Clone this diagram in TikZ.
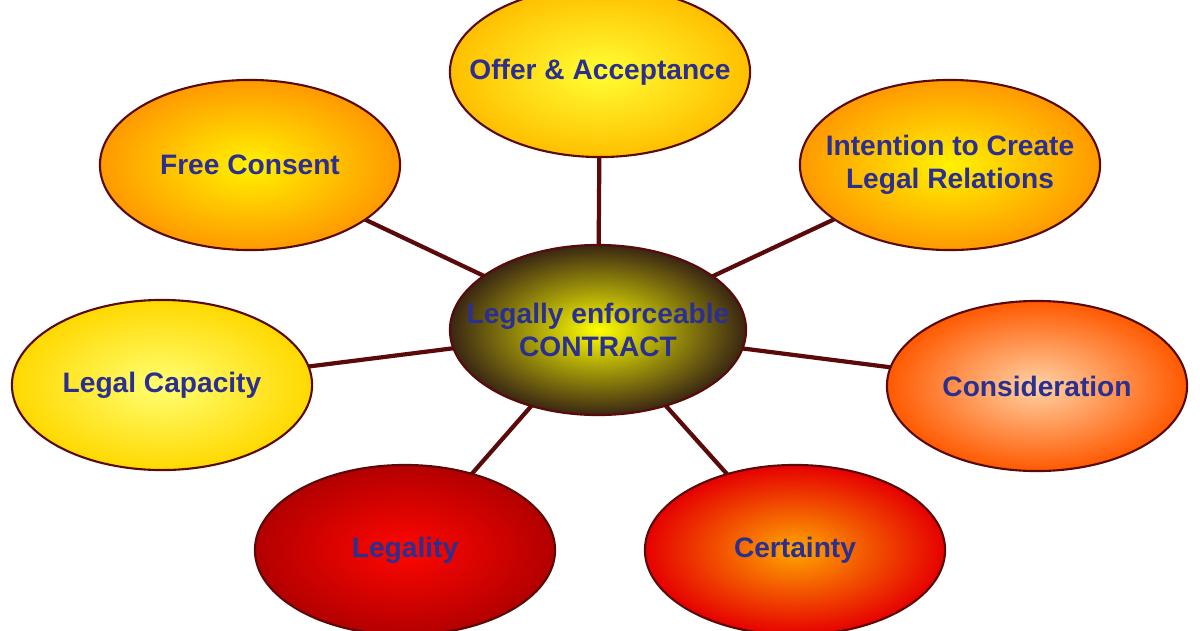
\documentclass[tikz,border=0pt]{standalone}
\usepackage{fontspec}
\setmainfont{Liberation Sans}
\usetikzlibrary{shapes.geometric,backgrounds}
\definecolor{txt}{HTML}{2B2F8F}
\definecolor{edge}{HTML}{5A0A0A}
\tikzset{
 bub/.style={ellipse, draw=edge, line width=0.6pt, inner sep=0pt, minimum width=3cm, minimum height=1.7cm, shading=radial,
   label={[font=\bfseries\fontsize{8}{9.5}\selectfont, text=txt, align=center]center:#1}},
 link/.style={draw=edge, line width=1.2pt}
}
\begin{document}
\begin{tikzpicture}[x=0.01cm,y=-0.01cm]
\useasboundingbox (0,0) rectangle (1200,630);
\node[bub={Offer \& Acceptance}, inner color=yellow!80!white, outer color=orange!50!yellow] (oa) at (600,72) {};
\node[bub={Free Consent}, inner color=yellow!90!orange, outer color=orange!80!yellow] (fc) at (250,165) {};
\node[bub={Intention to Create\\Legal Relations}, inner color=yellow!90!orange, outer color=orange!80!yellow] (ic) at (950,165) {};
\node[bub={Legal Capacity}, inner color=yellow!55!white, outer color=orange!30!yellow] (lc) at (162,385) {};
\node[bub={Consideration}, inner color=orange!35!white, outer color=orange!70!red] (co) at (1037,386) {};
\node[bub={Legality}, inner color=red!95!orange, outer color=red!70!black] (lg) at (405,550) {};
\node[bub={Certainty}, inner color=orange!70!yellow, outer color=red!90!black] (ce) at (795,550) {};
\node[bub={Legally enforceable\\CONTRACT}, minimum width=2.96cm, inner color=yellow, outer color=black!70!brown] (c) at (598,330) {};
\begin{scope}[on background layer]
\fill[white] (0,0) rectangle (1200,630);
\foreach \n in {oa,fc,ic,lc,co,lg,ce} \path[link] (c.center) -- (\n.center);
\end{scope}
\end{tikzpicture}
\end{document}
